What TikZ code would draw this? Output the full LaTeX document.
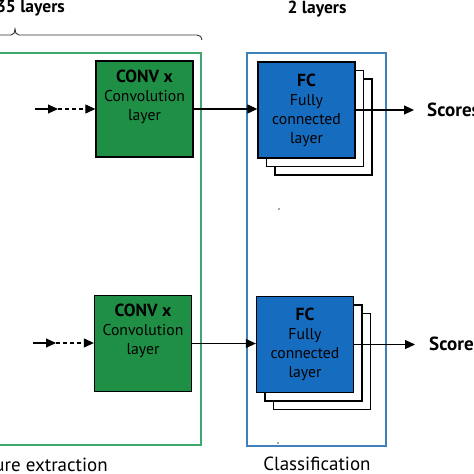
\documentclass[tikz,border=0pt]{standalone}
\usepackage{fontspec}
\setmainfont{PT Sans}
\usetikzlibrary{arrows.meta}
\definecolor{convgreen}{RGB}{31,143,69}
\definecolor{framegreen}{RGB}{60,168,110}
\definecolor{fcblue}{RGB}{22,108,190}
\definecolor{frameblue}{RGB}{62,128,186}
\newcommand{\bigb}[1]{{\fontsize{17.5}{19}\selectfont\bfseries #1}}
\tikzset{
  boxfont/.style={font=\fontsize{15.7}{19}\selectfont, align=center, inner sep=0pt},
  convbox/.style={draw=black, line width=1.3pt, fill=convgreen, minimum width=97pt, minimum height=96pt, inner sep=0pt},
  fcbox/.style={draw=black, line width=1.3pt, fill=fcblue, minimum width=97pt, minimum height=96pt, inner sep=0pt, boxfont},
  backbox/.style={draw=black, line width=1.3pt, fill=white, minimum width=97pt, minimum height=96pt, inner sep=0pt},
  arr/.style={line width=1.1pt, -{Triangle[length=10pt,width=9pt]}},
  dasharr/.style={arr, dash pattern=on 4pt off 3pt},
  headfont/.style={font=\fontsize{17.5}{19}\selectfont\bfseries, inner sep=0pt},
  scorefont/.style={font=\fontsize{19}{21}\selectfont\bfseries, inner sep=0pt},
  capfont/.style={font=\fontsize{19}{21}\selectfont, inner sep=0pt},
}
\begin{document}
\begin{tikzpicture}[x=1pt,y=-1pt]
\useasboundingbox (0,0) rectangle (474,474);
\clip (0,0) rectangle (474,474);
% frames
\draw[framegreen, line width=1.4pt] (-10,53) rectangle (201,445);
\draw[frameblue, line width=1.4pt] (247,53) rectangle (386,446);
% brace
\draw[black!80, line width=0.9pt] (-5,35) -- (11,35) .. controls (14,35) and (15,32) .. (15,29) .. controls (15,32) and (16,35) .. (19,35) -- (197,35) .. controls (200,35) and (202,37) .. (202,40);
% top labels
\node[headfont, anchor=base east] (tl1) at (65,12) {35 layers};
\node[headfont, anchor=base] (tl2) at (317,13) {2 layers};
% conv boxes
\node[convbox] (conv1) at (144.5,109) {};
\node[boxfont, anchor=north] (conv1t) at (144.5,70) {\bigb{CONV x}\\Convolution\\layer};
\node[convbox] (conv2) at (143,343.5) {};
\node[boxfont, anchor=north] (conv2t) at (143,303.5) {\bigb{CONV x}\\Convolution\\layer};
% fc stacks
\node[backbox] (fc1c) at (323.5,127) {};
\node[backbox] (fc1b) at (315,118.5) {};
\node[fcbox] (fc1) at (306.5,110) {\bigb{FC}\\Fully\\connected\\layer};
\node[backbox] (fc2c) at (322,361.5) {};
\node[backbox] (fc2b) at (313.5,353) {};
\node[fcbox] (fc2) at (305,344.5) {\bigb{FC}\\Fully\\connected\\layer};
% inputs
\coordinate (in1a) at (35,109);
\coordinate (in1b) at (58,109);
\coordinate (in2a) at (33,343);
\coordinate (in2b) at (56,343);
\draw[arr] (in1a) -- (in1b);
\draw[dasharr] (in1b) -- (conv1.west |- in1b);
\draw[arr] (in2a) -- (in2b);
\draw[dasharr] (in2b) -- (conv2.west |- in2b);
% conv to fc
\draw[arr] (conv1.east) -- (conv1.east -| fc1.west);
\draw[arr] (conv2.east) -- (conv2.east -| fc2.west);
% outputs
\node[scorefont, anchor=base west] (sc1) at (427,116) {Scores};
\node[scorefont, anchor=base west] (sc2) at (429,350) {Scores};
\draw[arr] (fc1.east) -- ([xshift=-13pt]fc1.east -| sc1.west);
\draw[arr] (fc2.east) -- ([xshift=-14pt]fc2.east -| sc2.west);
% dots
\fill[black!70] (279,209) circle (0.8pt);
\fill[black!70] (278,443) circle (0.8pt);
% bottom labels
\node[capfont, anchor=base east] (bl1) at (108,471) {Feature extraction};
\node[capfont, anchor=base] (bl2) at (317,470) {Classification};
\end{tikzpicture}
\end{document}
